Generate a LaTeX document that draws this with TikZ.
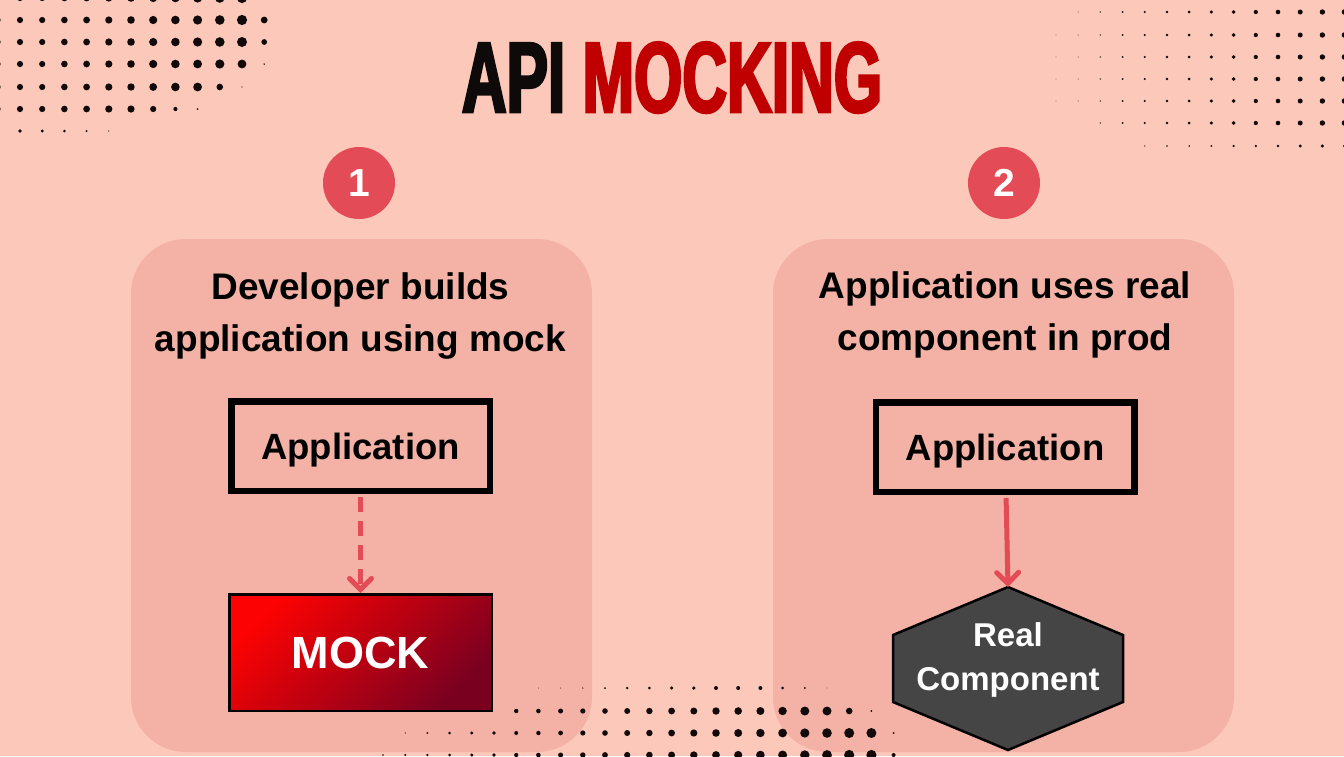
\documentclass[tikz,border=0pt]{standalone}
\usepackage{fontspec}
\setmainfont{Liberation Sans}
\newfontfamily\titlefont[FakeStretch=0.62,FakeBold=2.6]{Liberation Sans}
\usetikzlibrary{arrows.meta}
\definecolor{bgpeach}{RGB}{252,200,186}
\definecolor{panelpink}{RGB}{243,178,165}
\definecolor{titlered}{RGB}{192,0,0}
\definecolor{titleblack}{RGB}{15,10,10}
\definecolor{accentred}{RGB}{227,76,86}
\definecolor{hexgray}{RGB}{69,69,69}
\definecolor{mocklight}{RGB}{252,2,2}
\definecolor{mockdark}{RGB}{122,0,32}
\definecolor{dotblack}{RGB}{18,10,10}
\tikzset{
	panelstyle/.style={rectangle,rounded corners=55pt,fill=panelpink,minimum width=461pt,minimum height=513pt},
	numstyle/.style={circle,fill=accentred,text=white,minimum size=72pt,inner sep=0pt,font=\bfseries\fontsize{39}{39}\selectfont},
	labelstyle/.style={align=center,font=\bfseries\fontsize{37}{52}\selectfont},
	appstyle/.style={rectangle,draw=black,line width=6.5pt,minimum width=258.5pt,minimum height=89.5pt,text depth=0pt,font=\bfseries\fontsize{36.5}{36.5}\selectfont},
	mockstyle/.style={rectangle,draw=black,line width=2.5pt,top color=mocklight,bottom color=mockdark,shading angle=45,minimum width=262.5pt,minimum height=116.5pt,text=white,font=\bfseries\fontsize{45}{45}\selectfont},
	hexstyle/.style={draw=black,line width=2.5pt,fill=hexgray},
	hextextstyle/.style={align=center,text=white,font=\bfseries\fontsize{33}{44}\selectfont},
	arrowstyle/.style={draw=accentred,line width=5pt,shorten <=3pt,-{Straight Barb[length=11pt,width=22pt,line cap=round]}},
	dotstyle/.style={fill=dotblack}
}
\begin{document}
\begin{tikzpicture}[x=1pt,y=-1pt]
	\fill[bgpeach] (0,0) rectangle (1344,756);
	\useasboundingbox (0,0) rectangle (1344,756);
	\node[panelstyle] (leftpanel) at (361.5,495.5) {};
	\node[panelstyle] (rightpanel) at (1003.5,495.5) {};
	\foreach \y/\radii in {-2/{2.9,3.1,3.1,3.3,3.4,3.6,3.8,4.1,4.3,4.6,4.8,5.1,0},
		20/{2.9,3.1,3.1,3.3,3.4,3.6,3.8,4.1,4.3,4.6,4.8,5.1,3.4},
		42/{2.9,3.1,3.1,3.3,3.4,3.6,3.8,4.1,4.3,4.6,4.8,5,2.9},
		64/{2.9,3.1,3.1,3.3,3.4,3.6,3.8,4.1,4.3,4.4,4.6,4.4,0.8},
		87/{2.9,3.1,3.1,3.3,3.4,3.6,3.7,3.9,4.3,4.4,3.3,0.7,0},
		109/{2.9,3.1,3.1,3.3,3.4,3.6,3.6,3.1,2.1,0.9,0,0,0},
		131/{0,1.8,1.6,1.4,1.1,0.6,0,0,0,0,0,0,0}}
		\foreach \r [count=\i] in \radii
			\fill[dotstyle] ({-24.4+22.2*\i},\y) circle[radius=\r pt];
	\foreach \y/\first/\fac in {12/1/1,35/0/1,57/0/1,79/0/1,101/0/1,123/2/1,146/4/0.62}
		\foreach \k in {\first,...,13}
			\fill[dotstyle] ({1056+22.2*\k},\y) circle[radius=\fac*(0.3+0.2*\k)*1pt];
	\foreach \y/\first/\radii in {688/7/{0.4,0.5,0.7,1,1.3,1.5,1.7,1.8,2,2,2,1.5,1,0.4},
		711/6/{2.2,2.3,2.5,2.6,2.8,3,3.2,3.4,3.5,3.7,3.8,4,4.2,4.5,4.5,3.3,1},
		733/1/{0.6,1,1.4,1.6,1.8,2,2.2,2.4,2.6,2.8,3,3.2,3.4,3.6,3.8,4,4.2,4.4,4.6,4.8,5,5,1},
		755/0/{0.9,1.1,1.3,1.5,1.7,1.9,2.1,2.3,2.5,2.7,2.9,3.1,3.3,3.5,3.7,3.9,4.1,4.3,4.5,4.7,4.9,5.1,5.1,2}}
		\foreach \r [count=\i from \first] in \radii
			\fill[dotstyle] ({383+22.2*\i},\y) circle[radius=\r pt];
	\node[anchor=base,text=titleblack] (title) at (672,112) {\titlefont\bfseries\fontsize{100}{100}\selectfont API \textcolor{titlered}{MOCKING}};
	\node[numstyle] (one) at (359,183) {1};
	\node[numstyle] (two) at (1004,183) {2};
	\node[labelstyle] (leftlabel) at (360.5,316) {Developer builds\\application using mock};
	\node[labelstyle] (rightlabel) at (1005,315) {Application uses real\\component in prod};
	\node[appstyle] (devapp) at (360.5,446) {Application};
	\node[mockstyle] (mock) at (360.5,652.5) {MOCK};
	\node[appstyle] (prodapp) at (1005,447) {Application};
	\coordinate (hextop) at (1008,587);
	\draw[hexstyle] (hextop) -- ++(115,48) -- ++(0,67) -- ++(-115,48) -- ++(-115,-48) -- ++(0,-67) -- cycle;
	\node[hextextstyle] (real) at (1008,659.5) {Real\\Component};
	\draw[arrowstyle,dash pattern=on 15pt off 9pt] (devapp) -- (mock);
	\draw[arrowstyle] (prodapp) -- (hextop);
\end{tikzpicture}
\end{document}
